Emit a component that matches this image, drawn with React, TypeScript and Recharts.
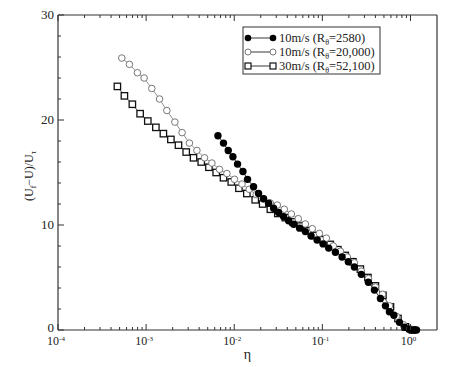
import { LineChart, Line, XAxis, YAxis, Label } from 'recharts'

// 10 m/s, Re_theta = 2580
const ETA_2580 = [0.00653, 0.00755, 0.00855, 0.00966, 0.0109, 0.01256, 0.01416, 0.01656, 0.01888, 0.02153, 0.02455, 0.02797, 0.03186, 0.0363, 0.0414, 0.0472, 0.0552, 0.0641, 0.0745, 0.0871, 0.1019, 0.118, 0.1406, 0.1675, 0.197, 0.231, 0.277, 0.333, 0.39, 0.456, 0.52, 0.577, 0.649, 0.75, 0.855, 0.962, 1.074, 1.17]
const DEF_2580 = [18.5, 17.8, 17.1, 16.5, 15.8, 15.1, 14.35, 13.65, 13.0, 12.5, 12.07, 11.6, 11.2, 10.8, 10.4, 10.07, 9.7, 9.37, 8.95, 8.57, 8.2, 7.8, 7.4, 6.95, 6.5, 6.0, 5.3, 4.55, 3.8, 3.0, 2.3, 1.74, 1.4, 0.73, 0.26, 0.07, 0.0, 0.0]

// 10 m/s, Re_theta = 20,000
const ETA_20000 = [0.00053, 0.000646, 0.000796, 0.000949, 0.00116, 0.00142, 0.00172, 0.00212, 0.00256, 0.0031, 0.00377, 0.0046, 0.00558, 0.00681, 0.00826, 0.01007, 0.01224, 0.01479, 0.01778, 0.02135, 0.02565, 0.0308, 0.037, 0.0445, 0.0533, 0.0641, 0.0769, 0.0925, 0.111, 0.133, 0.16, 0.192, 0.231, 0.277, 0.333, 0.4, 0.481, 0.577, 0.693, 0.832, 1.0]
const DEF_20000 = [25.9, 25.3, 24.5, 24.0, 23.0, 22.0, 20.9, 19.8, 18.8, 17.8, 17.1, 16.4, 15.9, 15.3, 14.9, 14.35, 13.9, 13.4, 12.9, 12.5, 12.1, 11.9, 11.5, 11.05, 10.6, 10.1, 9.65, 9.2, 8.75, 8.0, 7.5, 6.95, 6.4, 5.6, 4.9, 4.1, 3.4, 2.3, 1.3, 0.5, 0.1]

// 30 m/s, Re_theta = 52,100
const ETA_52100 = [0.000472, 0.000567, 0.000698, 0.000855, 0.001045, 0.00129, 0.00157, 0.00191, 0.00233, 0.00285, 0.00345, 0.00422, 0.00516, 0.00624, 0.00755, 0.00925, 0.0113, 0.0139, 0.0173, 0.021, 0.0257, 0.0312, 0.038, 0.0462, 0.0562, 0.0684, 0.0832, 0.1014, 0.123, 0.15, 0.182, 0.222, 0.27, 0.329, 0.4, 0.487, 0.593, 0.721, 0.877, 1.054]
const DEF_52100 = [23.2, 22.3, 21.5, 20.6, 19.9, 19.3, 18.7, 18.15, 17.6, 16.95, 16.4, 16.0, 15.5, 15.0, 14.5, 14.1, 13.5, 13.0, 12.4, 12.0, 11.5, 11.1, 10.7, 10.3, 9.9, 9.45, 9.0, 8.6, 8.15, 7.65, 7.1, 6.5, 5.8, 5.0, 4.2, 3.3, 2.2, 1.1, 0.3, 0.0]

const DECADES = [1e-4, 1e-3, 1e-2, 1e-1, 1]
const DECADE_EXP = ['-4', '-3', '-2', '-1', '0']
const Y_LABELS = [0, 10, 20, 30]

const X_TICKS: number[] = []
DECADES.forEach(d => {
  for (let m = 1; m <= 9; m++) if (d * m <= 2) X_TICKS.push(d * m)
})
X_TICKS.push(2)
const Y_TICKS = Array.from({ length: 16 }, (_, i) => i * 2)

const FONT = '"Liberation Serif", "DejaVu Serif", serif'
const AX = '#333'

const toPts = (xs: number[], ys: number[]) => xs.map((x, i) => ({ x, y: ys[i] }))
const d2580 = toPts(ETA_2580, DEF_2580)
const d20000 = toPts(ETA_20000, DEF_20000)
const d52100 = toPts(ETA_52100, DEF_52100)

const isDecade = (v: number) => DECADES.some(d => Math.abs(v - d) / d < 1e-6)

const BottomTick = (p: any) => {
  const v = p.payload.value
  const major = isDecade(v)
  if (v > 1.5) return <g />
  const idx = DECADES.findIndex(d => Math.abs(v - d) / d < 1e-6)
  return (
    <g>
      <line x1={p.x} x2={p.x} y1={p.y} y2={p.y - (major ? 6 : 3)} stroke={AX} />
      {major && (
        <text x={p.x - 2} y={p.y + 15} textAnchor="middle" fontSize={12} fill="#222" fontFamily={FONT}>
          10<tspan dy={-4} fontSize={7}>{DECADE_EXP[idx]}</tspan>
        </text>
      )}
    </g>
  )
}

const TopTick = (p: any) => {
  const v = p.payload.value
  if (v > 1.5) return <g />
  return <line x1={p.x} x2={p.x} y1={p.y} y2={p.y + (isDecade(v) ? 6 : 3)} stroke={AX} />
}

const LeftTick = (p: any) => {
  const v = p.payload.value
  const major = Y_LABELS.includes(v)
  return (
    <g>
      <line x1={p.x} x2={p.x + (major ? 6 : 3)} y1={p.y} y2={p.y} stroke={AX} />
      {major && (
        <text x={p.x - 4} y={p.y + (v === 0 ? 2 : 4)} textAnchor="end" fontSize={13} fill="#222" fontFamily={FONT}>{v}</text>
      )}
    </g>
  )
}

const RightTick = (p: any) => {
  const major = Y_LABELS.includes(p.payload.value)
  return <line x1={p.x} x2={p.x - (major ? 6 : 3)} y1={p.y} y2={p.y} stroke={AX} />
}

const SquareDot = (p: any) => (
  <rect key={p.index} x={p.cx - 3.2} y={p.cy - 3.2} width={6.4} height={6.4} fill="#fff" stroke="#111" strokeWidth={1.3} />
)

function LegendBox() {
  const rows = [
    { sp: '10m/s', re: '=2580' },
    { sp: '10m/s', re: '=20,000' },
    { sp: '30m/s', re: '=52,100' },
  ]
  return (
    <svg width={140} height={50} style={{ position: 'absolute', left: 242, top: 26 }}>
      <rect x={1} y={1} width={137} height={47} fill="#fff" stroke={AX} />
      {rows.map((r, i) => {
        const y = 12 + i * 14
        return (
          <g key={i}>
            <line x1={6} x2={31} y1={y} y2={y} stroke="#222" strokeWidth={0.9} />
            {i === 0 && <>
              <circle cx={6} cy={y} r={3.3} fill="#000" />
              <circle cx={31} cy={y} r={3.3} fill="#000" />
            </>}
            {i === 1 && <>
              <circle cx={6} cy={y} r={3} fill="#fff" stroke="#777" />
              <circle cx={31} cy={y} r={3} fill="#fff" stroke="#777" />
            </>}
            {i === 2 && <>
              <rect x={3} y={y - 3} width={6} height={6} fill="#fff" stroke="#111" strokeWidth={1.2} />
              <rect x={28} y={y - 3} width={6} height={6} fill="#fff" stroke="#111" strokeWidth={1.2} />
            </>}
            <text x={37} y={y + 4} fontSize={12.5} fill="#222" fontFamily={FONT}>
              {r.sp} (R<tspan dy={3} fontSize={8}>θ</tspan><tspan dy={-3}>{r.re})</tspan>
            </text>
          </g>
        )
      })}
    </svg>
  )
}

export default function App() {
  return (
    <div style={{ position: 'absolute', left: 0, top: 0, width: 474, height: 367, background: '#fff', fontFamily: FONT }}>
      <LineChart width={474} height={367} margin={{ top: 0, right: 0, bottom: 0, left: 0 }}>
        <XAxis xAxisId="b" dataKey="x" type="number" scale="log" domain={[1e-4, 2]} allowDataOverflow
          ticks={X_TICKS} interval={0} tick={<BottomTick />} tickLine={false} tickSize={0} tickMargin={0}
          height={37} stroke={AX} strokeWidth={1.2}>
          <Label value="η" position="insideBottom" offset={8} fontSize={14} fill="#222" />
        </XAxis>
        <XAxis xAxisId="t" orientation="top" dataKey="x" type="number" scale="log" domain={[1e-4, 2]} allowDataOverflow
          ticks={X_TICKS} interval={0} tick={<TopTick />} tickLine={false} tickSize={0} tickMargin={0}
          height={15} stroke={AX} strokeWidth={1.2} />
        <YAxis yAxisId="l" type="number" domain={[0, 30]} ticks={Y_TICKS} interval={0} tick={<LeftTick />}
          tickLine={false} tickSize={0} tickMargin={0} width={58} stroke={AX} strokeWidth={1.2}>
          <Label content={() => (
            <text transform="translate(33,176) rotate(-90)" textAnchor="middle" fontSize={12} fill="#222" fontFamily={FONT}>
              (U<tspan dy={3} fontSize={8}>f</tspan><tspan dy={-3}>−U)/U</tspan><tspan dy={3} fontSize={8}>τ</tspan>
            </text>
          )} />
        </YAxis>
        <YAxis yAxisId="r" orientation="right" type="number" domain={[0, 30]} ticks={Y_TICKS} interval={0}
          tick={<RightTick />} tickLine={false} tickSize={0} tickMargin={0} width={37} stroke={AX} strokeWidth={1.2} />
        <Line xAxisId="b" yAxisId="l" data={d52100} dataKey="y" type="linear" stroke="#222" strokeWidth={0.8}
          dot={SquareDot} isAnimationActive={false} />
        <Line xAxisId="b" yAxisId="l" data={d20000} dataKey="y" type="linear" stroke="#777" strokeWidth={0.8}
          dot={{ r: 3.3, fill: '#fff', stroke: '#777', strokeWidth: 1 }} isAnimationActive={false} />
        <Line xAxisId="b" yAxisId="l" data={d2580} dataKey="y" type="linear" stroke="#000" strokeWidth={0.8}
          dot={{ r: 3.7, fill: '#000', stroke: '#000', strokeWidth: 0 }} isAnimationActive={false} />
      </LineChart>
      <LegendBox />
    </div>
  )
}
